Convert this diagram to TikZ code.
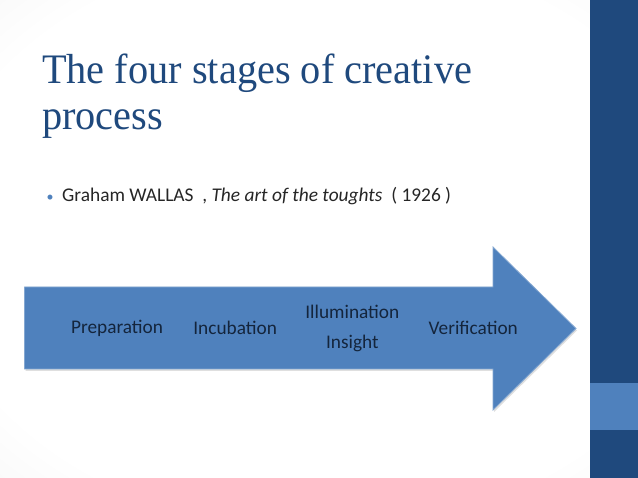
\documentclass[tikz,border=0pt]{standalone}
\usepackage{fontspec}
\setmainfont{Carlito}
\newfontfamily\titlefont{Liberation Serif}
\usetikzlibrary{positioning,shadows}
\definecolor{colorTitle}{HTML}{1F497D}
\definecolor{colorBar}{HTML}{1F497D}
\definecolor{colorBlock}{HTML}{4F81BD}
\definecolor{colorArrow}{HTML}{4F81BD}
\definecolor{colorStage}{HTML}{14253C}
\definecolor{colorBody}{HTML}{262626}
\pgfdeclareradialshading{slidebg}{\pgfpoint{0bp}{0bp}}{color(0bp)=(white); color(30bp)=(white); color(50bp)=(black!7); color(72bp)=(black!14)}

\begin{document}
\begin{tikzpicture}[x=1pt,y=-1pt,every node/.append style={align=center,inner sep=0pt},title/.style={font=\titlefont\fontsize{42}{46}\selectfont,text=colorTitle,align=left,xscale=0.96},body/.style={font=\fontsize{19.4}{22}\selectfont,text=colorBody},stage/.style={font=\fontsize{19.3}{30}\selectfont,text=colorStage},]
    \useasboundingbox (0,0) rectangle (638,478);
    \shade[shading=slidebg] (0,0) rectangle (638,478);
    \fill[colorBar] (590,0) rectangle (638,478);
    \fill[colorBlock] (590,383) rectangle (638,430);
    \path[fill=colorArrow, draw=colorArrow!70!white, line width=0.8pt, drop shadow={opacity=0.25, shadow xshift=1pt, shadow yshift=-2pt}] (24.5,287) -- (493,287) -- (493,247) -- (576,328.5) -- (493,410) -- (493,369) -- (24.5,369) -- cycle;
    \node [title, anchor=north west] (title) at (42,53.5) {The four stages of creative\\process};
    \node [body, text=colorBlock, anchor=base, font=\fontsize{14}{16}\selectfont] (dot) at (50,202) {\textbullet};
    \node [body, anchor=base west] (ref) at (62,202) {Graham WALLAS\ \ , \textit{The art of the toughts}\ \ ( 1926 )};
    \node [stage] (prep) at (117,328) {Preparation};
    \node [stage, right=30pt of prep] (incub) {Incubation};
    \node [stage, right=28pt of incub] (illum) {Illumination\\Insight};
    \node [stage, right=29pt of illum] (verif) {Verification};
\end{tikzpicture}
\end{document}
